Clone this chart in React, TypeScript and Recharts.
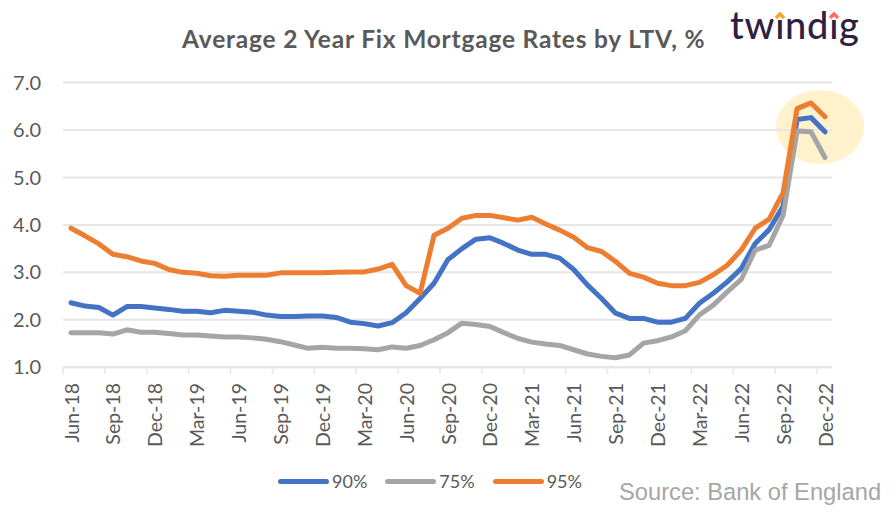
import { CartesianGrid, Legend, Line, LineChart, XAxis, YAxis } from "recharts";

const months = [
  "Jun-18", "Jul-18", "Aug-18", "Sep-18", "Oct-18", "Nov-18", "Dec-18",
  "Jan-19", "Feb-19", "Mar-19", "Apr-19", "May-19", "Jun-19", "Jul-19", "Aug-19", "Sep-19", "Oct-19", "Nov-19", "Dec-19",
  "Jan-20", "Feb-20", "Mar-20", "Apr-20", "May-20", "Jun-20", "Jul-20", "Aug-20", "Sep-20", "Oct-20", "Nov-20", "Dec-20",
  "Jan-21", "Feb-21", "Mar-21", "Apr-21", "May-21", "Jun-21", "Jul-21", "Aug-21", "Sep-21", "Oct-21", "Nov-21", "Dec-21",
  "Jan-22", "Feb-22", "Mar-22", "Apr-22", "May-22", "Jun-22", "Jul-22", "Aug-22", "Sep-22", "Oct-22", "Nov-22", "Dec-22",
];

const series90 = [
  2.36, 2.29, 2.26, 2.1, 2.28, 2.28, 2.25, 2.22, 2.18, 2.18, 2.15,
  2.2, 2.18, 2.16, 2.1, 2.07, 2.07, 2.08, 2.08, 2.05, 1.95,
  1.92, 1.87, 1.94, 2.15, 2.45, 2.77, 3.27, 3.5, 3.7, 3.73,
  3.61, 3.47, 3.38, 3.38, 3.3, 3.06, 2.73, 2.45, 2.14, 2.03, 2.03,
  1.95, 1.95, 2.03, 2.35, 2.56, 2.8, 3.08, 3.61, 3.9, 4.4, 6.22, 6.26, 5.96,
];
const series75 = [
  1.73, 1.73, 1.73, 1.7, 1.79, 1.74, 1.74, 1.71, 1.68, 1.68, 1.66,
  1.64, 1.64, 1.62, 1.59, 1.54, 1.47, 1.4, 1.42, 1.4, 1.4,
  1.39, 1.37, 1.43, 1.4, 1.46, 1.58, 1.73, 1.93, 1.9, 1.86, 1.73,
  1.61, 1.53, 1.49, 1.46, 1.37, 1.28, 1.23, 1.2, 1.26, 1.51, 1.56,
  1.64, 1.77, 2.1, 2.31, 2.59, 2.85, 3.47, 3.57, 4.2, 5.98, 5.96, 5.42,
];
const series95 = [
  3.93, 3.77, 3.6, 3.38, 3.33, 3.24, 3.19, 3.06, 3.0, 2.98, 2.93,
  2.92, 2.94, 2.94, 2.94, 2.99, 2.99, 2.99, 2.99, 3.0, 3.01,
  3.01, 3.07, 3.17, 2.72, 2.56, 3.78, 3.93, 4.14, 4.2, 4.2, 4.15,
  4.1, 4.16, 4.02, 3.89, 3.74, 3.52, 3.44, 3.23, 2.98, 2.9, 2.77,
  2.72, 2.72, 2.79, 2.95, 3.15, 3.47, 3.93, 4.12, 4.68, 6.45, 6.57, 6.28,
];

const yTicks = [1, 2, 3, 4, 5, 6, 7];

const data = months.map((month, i) => ({
  month,
  "90%": series90[i],
  "75%": series75[i],
  "95%": series95[i],
}));

const TEXT = "#595959";
const GRID = "#e6e6e6";
const FONT = "Lato, sans-serif";

// Excel puts the tick marks between categories, so the mark sits half a band left of the label
function MonthTick({ x, payload }: any) {
  return (
    <g>
      <line x1={x - 8} x2={x - 8} y1={367} y2={374} stroke={GRID} strokeWidth={1.5} />
      <text
        transform={`translate(${x},383) rotate(-90)`}
        textAnchor="end"
        dominantBaseline="central"
        fontFamily={FONT}
        fontSize={19.5}
        fill={TEXT}
      >
        {payload.value}
      </text>
    </g>
  );
}

function LegendRow({ payload }: any) {
  return (
    <div style={{ display: "flex", alignItems: "center", fontFamily: FONT, fontSize: 18, color: TEXT }}>
      {(payload ?? []).map((entry: any) => (
        <div key={entry.value} style={{ display: "flex", alignItems: "center", marginRight: 18 }}>
          <div style={{ width: 51, height: 5, borderRadius: 3, background: entry.color, marginRight: 3 }} />
          <span>{entry.value}</span>
        </div>
      ))}
    </div>
  );
}

export default function App() {
  return (
    <div style={{ position: "absolute", left: 0, top: 0, width: 896, height: 521, background: "#fff", overflow: "hidden" }}>
      {/* highlight behind the last three months */}
      <div
        style={{
          position: "absolute",
          left: 776,
          top: 90,
          width: 88,
          height: 74,
          borderRadius: "50%",
          background: "#fff2cc",
        }}
      />
      <div style={{ position: "absolute", left: 0, top: 0 }}>
        <LineChart
          width={896}
          height={521}
          data={data}
          margin={{ top: 82.5, right: 64, bottom: 0, left: 0 }}
        >
          <CartesianGrid vertical={false} stroke={GRID} strokeWidth={2} />
          <XAxis
            dataKey="month"
            interval={2}
            height={153.7}
            padding={{ left: 8, right: 7 }}
            axisLine={{ stroke: GRID, strokeWidth: 2 }}
            tickLine={false}
            tick={<MonthTick />}
          />
          <YAxis
            width={63}
            domain={[1, 7]}
            ticks={yTicks}
            tickFormatter={(v: number) => v.toFixed(1)}
            axisLine={false}
            tickLine={false}
            tickMargin={16}
            tick={{ fontFamily: FONT, fontSize: 20, fill: TEXT }}
          />
          <Legend
            layout="horizontal"
            verticalAlign="middle"
            itemSorter={null}
            content={<LegendRow />}
            wrapperStyle={{ position: "absolute", left: 278, top: 470, width: "auto" }}
          />
          <Line dataKey="90%" stroke="#4472c4" strokeWidth={5} strokeLinecap="round" strokeLinejoin="round" dot={false} isAnimationActive={false} />
          <Line dataKey="75%" stroke="#a5a5a5" strokeWidth={5} strokeLinecap="round" strokeLinejoin="round" dot={false} isAnimationActive={false} />
          <Line dataKey="95%" stroke="#ed7d31" strokeWidth={5} strokeLinecap="round" strokeLinejoin="round" dot={false} isAnimationActive={false} />
        </LineChart>
      </div>
      <div
        style={{
          position: "absolute",
          left: 182,
          top: 24,
          fontFamily: FONT,
          fontWeight: 700,
          fontSize: 24.5,
          letterSpacing: 0.8,
          color: TEXT,
          whiteSpace: "nowrap",
        }}
      >
        Average 2 Year Fix Mortgage Rates by LTV, %
      </div>
      <div
        style={{
          position: "absolute",
          left: 619,
          top: 479,
          fontFamily: "'Liberation Sans', sans-serif",
          fontSize: 23.7,
          color: "#a6a6a6",
          whiteSpace: "nowrap",
        }}
      >
        Source: Bank of England
      </div>
      <svg style={{ position: "absolute", left: 720, top: 0 }} width={150} height={60}>
        <text x={10} y={39} fontFamily={FONT} fontWeight={500} fontSize={38} letterSpacing={0.7} fill="#2e2240">
          twindig
        </text>
        <rect x={53} y={6} width={14} height={14} fill="#fff" />
        <rect x={106} y={6} width={14} height={14} fill="#fff" />
        <path d="M56 18 L60 14 L64 18" fill="none" stroke="#f9a825" strokeWidth={3.5} />
        <path d="M110 18 L114 14 L118 18" fill="none" stroke="#ff6f5e" strokeWidth={3.5} />
      </svg>
    </div>
  );
}
